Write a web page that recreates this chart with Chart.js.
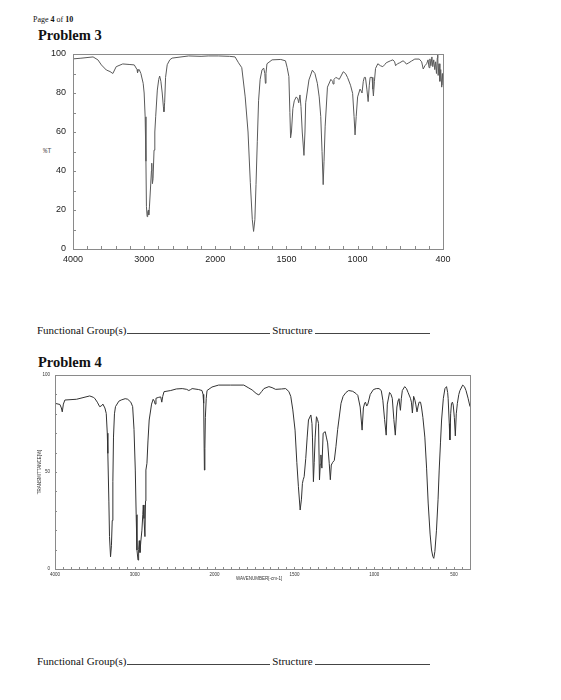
<!DOCTYPE html>
<html>
<head>
<meta charset="utf-8">
<script src="https://cdn.jsdelivr.net/npm/chart.js@4"></script>
<style>
  body { margin: 0; background: #fff; width: 561px; height: 700px; position: relative; overflow: hidden; }
  .t { position: absolute; white-space: nowrap; font-family: "Liberation Serif", serif; color: #111; }
  .page { left: 33px; top: 15px; font-size: 8px; line-height: 10px; }
  .prob { left: 38px; font-size: 14.5px; font-weight: bold; line-height: 16px; }
  .fg { left: 37px; font-size: 11px; line-height: 13px; }
  .ul { display: inline-block; height: 9px; border-bottom: 1px solid #444; }
  .small { position: absolute; white-space: nowrap; }
  canvas { position: absolute; left: 0; }
</style>
</head>
<body>
<div class="t page">Page <b>4</b> of <b>10</b></div>
<div class="t prob" style="top:27px">Problem 3</div>
<div class="small" style="left:43px; top:147px; font:7px 'Liberation Mono', monospace; color:#555">%T</div>
<canvas id="ir1" width="480" height="240" style="top:40px"></canvas>
<div class="t fg" style="top:324px">Functional Group(s)<span class="ul" style="width:143px"></span> Structure <span class="ul" style="width:115px"></span></div>
<div class="t prob" style="top:354px">Problem 4</div>
<canvas id="ir2" width="490" height="230" style="top:360px"></canvas>
<div class="small" style="left:236px; top:576px; font:4.5px 'Liberation Sans', sans-serif; color:#333">WAVENUMBER[-cm-1]</div>
<div class="t fg" style="top:655px">Functional Group(s)<span class="ul" style="width:143px"></span> Structure <span class="ul" style="width:115px"></span></div>

<script>
// ---------- data: problem 3 ----------
const wn1 = [4000, 3900, 3718, 3650, 3601, 3532, 3480, 3440, 3393, 3301, 3200, 3139, 3100, 3093, 3080, 3069, 3046, 3014, 3000, 2986,
  2975, 2968, 2958, 2950, 2940, 2935, 2925, 2907, 2898, 2893, 2884, 2875, 2861, 2850, 2838, 2815, 2795, 2782, 2765, 2746,
  2730, 2722, 2712, 2699, 2676, 2640, 2607, 2375, 2200, 2100, 1979, 1900, 1861, 1837, 1814, 1790, 1770, 1754, 1740, 1731,
  1722, 1714, 1705, 1696, 1685, 1672, 1660, 1652, 1648, 1644, 1637, 1601, 1540, 1507, 1495, 1483, 1476, 1471, 1465, 1455,
  1445, 1431, 1420, 1414, 1405, 1398, 1389, 1377, 1370, 1365, 1342, 1318, 1300, 1283, 1270, 1259, 1250, 1242, 1236, 1228,
  1212, 1188, 1176, 1172, 1166, 1153, 1140, 1129, 1101, 1085, 1071, 1050, 1035, 1025, 1018, 1010, 1000, 983, 975, 969,
  960, 953, 945, 935, 926, 918, 912, 898, 893, 889, 882, 874, 858, 840, 823, 810, 799, 770, 752, 740,
  733, 720, 704, 681, 670, 657, 640, 621, 598, 567, 550, 539, 527, 515, 505, 498, 492, 485, 478, 472,
  465, 458, 452, 446, 440, 437, 434, 428, 422, 416, 409, 404, 400];
const t1 = [97.5, 97.8, 98.5, 97, 94.4, 91.8, 91, 90, 93.5, 94.9, 94.6, 94.4, 92, 90.4, 92, 92, 90, 85, 80, 67.8,
  45, 21.7, 16.6, 19, 20, 17.5, 22, 33.8, 40, 44, 33.5, 36, 50.7, 60, 67.8, 81.5, 87, 88.7, 86, 80,
  73, 70.4, 75, 88, 94.5, 97, 97.9, 99, 98.8, 99, 99, 98.8, 98.5, 95.5, 93, 78, 60, 34, 15, 9,
  15, 33, 55, 76, 87, 91.8, 92.8, 90, 85, 90, 95, 97, 97.2, 96.5, 93, 88.4, 70, 57, 60, 72,
  76, 78, 77, 75, 79, 73, 60, 48, 60, 75, 86.7, 91.7, 90, 85, 78, 67.9, 50, 33, 45, 63,
  83, 87, 86, 84.6, 87, 88, 87.5, 87, 90.9, 90, 88, 84, 79.8, 68, 58.5, 68, 78, 82, 81, 80,
  86, 88, 88, 82, 75.6, 84, 88, 88, 82, 78.5, 86, 92.6, 95, 94, 93.5, 94.5, 95.5, 96.5, 97, 96,
  94, 95, 95.5, 96.5, 96, 94.8, 95.5, 96.4, 97.4, 97.4, 96, 92.3, 94, 95, 97, 93, 97.5, 94, 98.5, 93.5,
  97, 92, 96, 90, 98, 100, 89, 95, 86, 92, 83, 90, 84];

// ---------- data: problem 4 ----------
const wn2 = [4000, 3938, 3920, 3909, 3895, 3876, 3730, 3565, 3520, 3503, 3470, 3441, 3420, 3400, 3375, 3358, 3345, 3338, 3325, 3317,
  3304, 3293, 3283, 3275, 3267, 3255, 3242, 3200, 3171, 3120, 3089, 3050, 3027, 3010, 2994, 2983, 2973, 2960, 2952, 2944,
  2935, 2925, 2911, 2900, 2894, 2885, 2873, 2866, 2861, 2848, 2835, 2820, 2790, 2770, 2755, 2745, 2735, 2700, 2675, 2662,
  2650, 2634, 2550, 2480, 2406, 2350, 2323, 2300, 2282, 2200, 2158, 2145, 2137, 2128, 2122, 2116, 2105, 2095, 2033, 1975,
  1900, 1817, 1790, 1765, 1740, 1723, 1705, 1691, 1660, 1640, 1618, 1580, 1555, 1535, 1523, 1510, 1496, 1485, 1475, 1464,
  1456, 1450, 1445, 1439, 1429, 1420, 1412, 1397, 1390, 1387, 1381, 1376, 1370, 1362, 1355, 1349, 1343, 1338, 1334, 1328,
  1320, 1307, 1300, 1292, 1282, 1275, 1269, 1260, 1250, 1240, 1229, 1208, 1195, 1177, 1160, 1135, 1115, 1103, 1088, 1076,
  1068, 1060, 1055, 1047, 1040, 1025, 1005, 987, 970, 956, 946, 935, 925, 918, 904, 895, 887, 877, 868, 858,
  850, 845, 836, 830, 824, 809, 798, 788, 773, 767, 761, 753, 745, 740, 732, 725, 719, 710, 704, 695,
  683, 672, 662, 650, 641, 633, 627, 620, 610, 600, 593, 585, 578, 567, 557, 547, 540, 537, 530, 526,
  521, 516, 510, 505, 498, 492, 486, 479, 470, 463, 446, 435, 425, 412, 400];
const t2 = [85.4, 84.8, 83, 81, 85, 87.1, 87.5, 89.2, 88.5, 88, 86, 83.7, 84, 85, 83, 80.2, 70, 59.6, 35, 16.7,
  6.3, 12, 25, 45, 68, 80, 83.7, 86.5, 87.1, 87.8, 87.5, 86, 83.7, 72, 51, 28, 9.8, 4.6, 10, 14.6,
  8.5, 14, 20, 28, 33, 26, 16.7, 35, 51, 54.5, 66, 76.8, 85, 87.5, 86.5, 85, 88, 88.5, 88.7, 86,
  89, 91.4, 92, 92.8, 93, 92.6, 92, 92.5, 93, 92.5, 92, 90, 85.4, 51, 62, 78, 88, 92, 93.8, 94.8,
  94.8, 94.8, 93.5, 92.3, 90.5, 89.7, 91.5, 93, 94, 93.5, 92.6, 92.8, 93, 91.5, 89, 82, 71.6, 55, 42.4, 30.4,
  36, 44, 46, 47.6, 57, 68, 76.8, 79.4, 75, 68, 45, 55, 68, 78.5, 77, 75, 45.9, 54, 58.8, 52,
  70, 70.8, 68, 65, 54.5, 46, 53.6, 55, 56, 63, 72, 85.4, 89, 91, 92, 91.6, 90.5, 89.5, 83.5, 71.6,
  83, 85.5, 86, 84, 85, 90, 92.5, 93, 93, 92, 87, 77, 69, 85, 91, 90, 88, 77, 69, 83.5,
  87, 87.8, 81.8, 88, 92, 94, 93, 91, 88, 86, 80.4, 89, 87, 85, 81, 84, 86, 86, 83.5, 78,
  68, 52, 34, 18, 9.8, 6.5, 5.5, 9, 20, 36, 51, 65, 76.8, 88, 93, 94, 91, 88, 75, 66.5,
  80, 85.4, 86, 84.5, 78, 68.6, 80, 85.4, 90, 92, 94.8, 94, 92, 88, 83.7];

// ---------- tick labels ----------
const xTicks1 = [4000, 3000, 2000, 1500, 1000, 400];
const yTicks1 = [0, 20, 40, 60, 80, 100];
const xTicks2 = [4000, 3000, 2000, 1500, 1000, 500];
const yTicks2 = [0, 50, 100];

// ---------- axis: scale doubles below 2000 cm-1 ----------
function toAxis(w) {
  return w >= 2000 ? 4000 - w : 2000 + 2 * (2000 - w);
}
function fromAxis(u) {
  return u <= 2000 ? 4000 - u : 2000 - (u - 2000) / 2;
}

// border box + inward tick marks
function frameTicks(color, hiStep, loStep, len) {
  return {
    id: "frameTicks",
    afterDraw(chart) {
      const { ctx, chartArea: a, scales } = chart;
      ctx.save();
      ctx.strokeStyle = color;
      ctx.lineWidth = 1;
      ctx.strokeRect(Math.round(a.left) + 0.5, Math.round(a.top) + 0.5,
        Math.round(a.right - a.left), Math.round(a.bottom - a.top));
      ctx.beginPath();
      const marks = [];
      for (let w = 4000; w > 2000; w -= hiStep) marks.push(w);
      for (let w = 2000; w >= 400; w -= loStep) marks.push(w);
      marks.forEach((w) => {
        const px = Math.round(scales.x.getPixelForValue(toAxis(w))) + 0.5;
        ctx.moveTo(px, a.bottom);
        ctx.lineTo(px, a.bottom - len);
      });
      for (let v = 10; v < 100; v += 10) {
        const py = Math.round(scales.y.getPixelForValue(v)) + 0.5;
        ctx.moveTo(a.left, py);
        ctx.lineTo(a.left + len, py);
      }
      ctx.stroke();
      ctx.restore();
    }
  };
}

function buildChart(id, wn, t, opts) {
  const points = wn.map((w, i) => ({ x: toAxis(w), y: t[i] }));
  return new Chart(document.getElementById(id), {
    type: "line",
    data: {
      datasets: [{
        data: points,
        borderColor: opts.line,
        borderWidth: 1,
        pointRadius: 0,
        tension: 0,
        fill: false
      }]
    },
    options: {
      responsive: false,
      animation: false,
      events: [],
      layout: { padding: opts.padding },
      plugins: { legend: { display: false }, tooltip: { enabled: false } },
      scales: {
        x: {
          type: "linear",
          min: 0,
          max: toAxis(400),
          grid: { display: false, drawTicks: false },
          border: { display: false },
          afterBuildTicks: (s) => { s.ticks = opts.xTicks.map((w) => ({ value: toAxis(w) })); },
          afterFit: (s) => { s.height = opts.xHeight; },
          ticks: {
            autoSkip: false,
            maxRotation: 0,
            padding: opts.xPad,
            color: opts.text,
            font: { family: "Liberation Sans", size: opts.font },
            callback: (v) => String(Math.round(fromAxis(v)))
          }
        },
        y: {
          min: 0,
          max: 100,
          grid: { display: false, drawTicks: false },
          border: { display: false },
          afterBuildTicks: (s) => { s.ticks = opts.yTicks.map((v) => ({ value: v })); },
          afterFit: (s) => { s.width = opts.yWidth; },
          title: opts.yTitle,
          ticks: {
            padding: opts.yPad,
            color: opts.text,
            font: { family: "Liberation Sans", size: opts.font }
          }
        }
      }
    },
    plugins: [frameTicks(opts.frame, opts.hiStep, opts.loStep, opts.tick)]
  });
}

buildChart("ir1", wn1, t1, {
  line: "#5a5a5a", frame: "#8a8a8a", text: "#222",
  padding: { left: 0, top: 14, right: 37, bottom: 0 },
  xHeight: 31, yWidth: 73, xPad: 5, yPad: 7, font: 9,
  xTicks: xTicks1, yTicks: yTicks1,
  yTitle: { display: false },
  hiStep: 200, loStep: 100, tick: 3
});

buildChart("ir2", wn2, t2, {
  line: "#333", frame: "#8a8a8a", text: "#333",
  padding: { left: 0, top: 15, right: 20, bottom: 0 },
  xHeight: 21, yWidth: 55, xPad: 3, yPad: 5, font: 4.5,
  xTicks: xTicks2, yTicks: yTicks2,
  yTitle: {
    display: true, text: "TRANSMITTANCE[%]", color: "#333",
    font: { family: "Liberation Sans", size: 4.5 },
    padding: { top: 37, bottom: 0 }
  },
  hiStep: 100, loStep: 50, tick: 2
});
</script>
</body>
</html>
